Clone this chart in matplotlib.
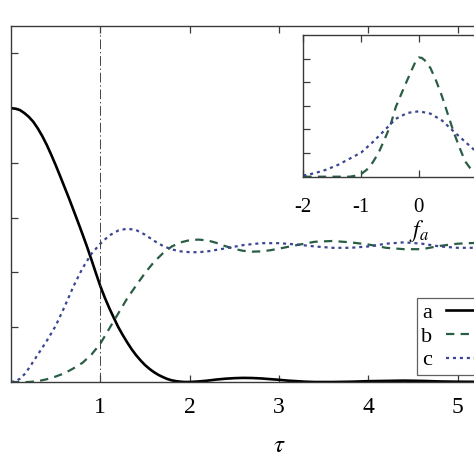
import matplotlib
matplotlib.use('Agg')
import matplotlib.pyplot as plt

# main panel: curves a, b, c against tau
tau_a = [0.0, 0.05, 0.1, 0.15, 0.2, 0.25, 0.3, 0.35, 0.4, 0.45, 0.5, 0.55, 0.6, 0.65,
         0.7, 0.75, 0.8, 0.85, 0.9, 0.95, 1.0, 1.05, 1.1, 1.15, 1.2, 1.25, 1.3, 1.35,
         1.4, 1.45, 1.5, 1.55, 1.6, 1.65, 1.7, 1.75, 1.8, 1.85, 1.9, 1.95, 2.0, 2.1,
         2.2, 2.3, 2.4, 2.5, 2.6, 2.7, 2.8, 2.9, 3.0, 3.1, 3.2, 3.3, 3.4, 3.6, 3.8,
         4.0, 4.2, 4.4, 4.6, 4.8, 5.0, 5.5, 6.0]
a = [1.0, 0.998, 0.993, 0.982, 0.968, 0.95, 0.926, 0.898, 0.866, 0.83, 0.792, 0.752,
     0.711, 0.67, 0.627, 0.584, 0.54, 0.495, 0.447, 0.398, 0.35, 0.308, 0.27, 0.235,
     0.201, 0.172, 0.145, 0.12, 0.098, 0.079, 0.062, 0.048, 0.036, 0.026, 0.018,
     0.011, 0.006, 0.003, 0.001, 0.0, 0.0, 0.002, 0.005, 0.009, 0.012, 0.014, 0.015,
     0.0145, 0.013, 0.0105, 0.008, 0.005, 0.003, 0.001, 0.0, 0.0, 0.001, 0.003,
     0.004, 0.005, 0.004, 0.002, 0.001, 0.0, 0.0]

tau_b = [0.0, 0.2, 0.3, 0.4, 0.5, 0.6, 0.7, 0.8, 0.9, 1.0, 1.1, 1.2, 1.3, 1.4, 1.5, 1.6,
         1.7, 1.8, 1.9, 2.0, 2.1, 2.2, 2.3, 2.4, 2.5, 2.6, 2.7, 2.8, 2.9, 3.0, 3.2, 3.4,
         3.6, 3.8, 4.0, 4.2, 4.4, 4.6, 4.8, 5.0, 5.2, 5.4, 5.6, 5.8, 6.0]
b = [0.0, 0.0, 0.003, 0.01, 0.02, 0.032, 0.05, 0.07, 0.10, 0.14, 0.195, 0.25, 0.305,
     0.352, 0.398, 0.438, 0.47, 0.495, 0.51, 0.518, 0.52, 0.517, 0.508, 0.496, 0.486,
     0.479, 0.476, 0.477, 0.481, 0.487, 0.50, 0.512, 0.515, 0.51, 0.502, 0.49, 0.485,
     0.485, 0.497, 0.505, 0.508, 0.503, 0.497, 0.495, 0.50]

tau_c = [0.0, 0.05, 0.1, 0.15, 0.2, 0.25, 0.3, 0.4, 0.5, 0.6, 0.7, 0.8, 0.9, 1.0, 1.1,
         1.2, 1.3, 1.4, 1.5, 1.6, 1.7, 1.8, 1.9, 2.0, 2.1, 2.2, 2.4, 2.6, 2.8, 3.0, 3.2,
         3.4, 3.6, 3.8, 4.0, 4.2, 4.4, 4.6, 4.8, 5.0, 5.2, 5.4, 5.6, 5.8, 6.0]
c = [0.0, 0.003, 0.012, 0.028, 0.05, 0.075, 0.10, 0.15, 0.205, 0.275, 0.35, 0.415,
     0.468, 0.505, 0.535, 0.553, 0.56, 0.555, 0.538, 0.516, 0.497, 0.484, 0.477,
     0.474, 0.474, 0.477, 0.488, 0.50, 0.507, 0.507, 0.502, 0.495, 0.49, 0.49, 0.495,
     0.505, 0.51, 0.505, 0.495, 0.49, 0.49, 0.497, 0.503, 0.505, 0.50]

tau_ticks = [1, 2, 3, 4, 5]
tau_mark = 1.0

# inset: distributions against f_a
f_b = [-2.0, -1.5, -1.2, -1.1, -1.0, -0.9, -0.8, -0.7, -0.6, -0.5, -0.4, -0.3, -0.2,
       -0.1, -0.05, 0.0, 0.05, 0.1, 0.2, 0.3, 0.4, 0.5, 0.6, 0.7, 0.8, 0.9, 1.0, 1.1,
       1.2, 1.5, 2.0]
pb = [0.0, 0.0, 0.0, 0.04, 0.11, 0.3, 0.6, 1.0, 1.55, 2.12, 2.95, 3.53, 4.1, 4.65,
      4.92, 5.05, 5.03, 4.93, 4.6, 4.05, 3.4, 2.65, 1.9, 1.25, 0.65, 0.32, 0.12, 0.04,
      0.0, 0.0, 0.0]
f_c = [-2.0, -1.8, -1.6, -1.4, -1.2, -1.0, -0.8, -0.6, -0.4, -0.2, 0.0, 0.2, 0.4, 0.6,
       0.8, 1.0, 1.2, 1.4, 1.6, 1.8, 2.0]
pc = [0.05, 0.15, 0.3, 0.5, 0.76, 1.02, 1.46, 1.95, 2.45, 2.7, 2.77, 2.67, 2.38, 1.92,
      1.48, 1.04, 0.76, 0.5, 0.3, 0.15, 0.05]
f_ticks = [-2, -1, 0, 1, 2]
f_ticklabels = ['-2', '-1', '0', '', '']

plt.rcParams['font.family'] = ['Liberation Serif', 'DejaVu Serif']
plt.rcParams['mathtext.fontset'] = 'stix'
plt.rcParams['axes.unicode_minus'] = False
plt.rcParams['lines.scale_dashes'] = False

green = '#2a5e44'
blue = '#3b4690'
spine = '#3a3a3a'

fig = plt.figure(figsize=(4.74, 4.74), dpi=100)
ax = fig.add_axes([11 / 474, 92 / 474, 536 / 474, 356 / 474])

ax.plot(tau_a, a, color='black', lw=1.9, label='a')
ax.plot(tau_b, b, color=green, lw=1.6, dashes=(6, 4.5), label='b')
ax.plot(tau_c, c, color=blue, lw=1.6, dashes=(2.2, 2.8), label='c')
ax.axvline(tau_mark, color='#444444', lw=0.7, dashes=(7, 2, 1, 2))

ax.set_xlim(0, 6)
ax.set_ylim(0, 1.3)
ax.set_xticks(tau_ticks)
ax.set_yticks([0.2, 0.4, 0.6, 0.8, 1.0, 1.2])
ax.set_yticklabels([])
ax.tick_params(direction='in', length=5, width=0.9, color=spine, top=True,
               labelsize=17, pad=11)
ax.set_xlabel(r'$\tau$', fontsize=18, labelpad=12)
for s in ax.spines.values():
    s.set_color(spine)
    s.set_linewidth(1.0)

leg = ax.legend(loc='upper left', bbox_to_anchor=(416.7 / 474, 1 - 298 / 474),
                bbox_transform=fig.transFigure, markerfirst=False, fontsize=16,
                frameon=True, fancybox=False, borderaxespad=0, borderpad=0.2,
                labelspacing=0.14, handlelength=3.2, handletextpad=0.6)
leg.get_frame().set_edgecolor(spine)
leg.get_frame().set_linewidth(0.9)

ins = fig.add_axes([303.3 / 474, (474 - 176.7) / 474, 231.2 / 474, 141.7 / 474])
ins.plot(f_b, pb, color=green, lw=1.6, dashes=(6, 4.5))
ins.plot(f_c, pc, color=blue, lw=1.6, dashes=(2.2, 2.8))
ins.set_xlim(-2, 2)
ins.set_ylim(0, 6)
ins.set_xticks(f_ticks)
ins.set_xticklabels(f_ticklabels)
ins.set_yticks([1, 2, 3, 4, 5])
ins.set_yticklabels([])
ins.tick_params(direction='in', length=5, width=0.9, color=spine, top=True,
                labelsize=15, pad=15)
ins.set_xlabel(r'$f_a$', fontsize=17, labelpad=1)
for s in ins.spines.values():
    s.set_color(spine)
    s.set_linewidth(1.0)

fig.savefig('out.png', dpi=100)
